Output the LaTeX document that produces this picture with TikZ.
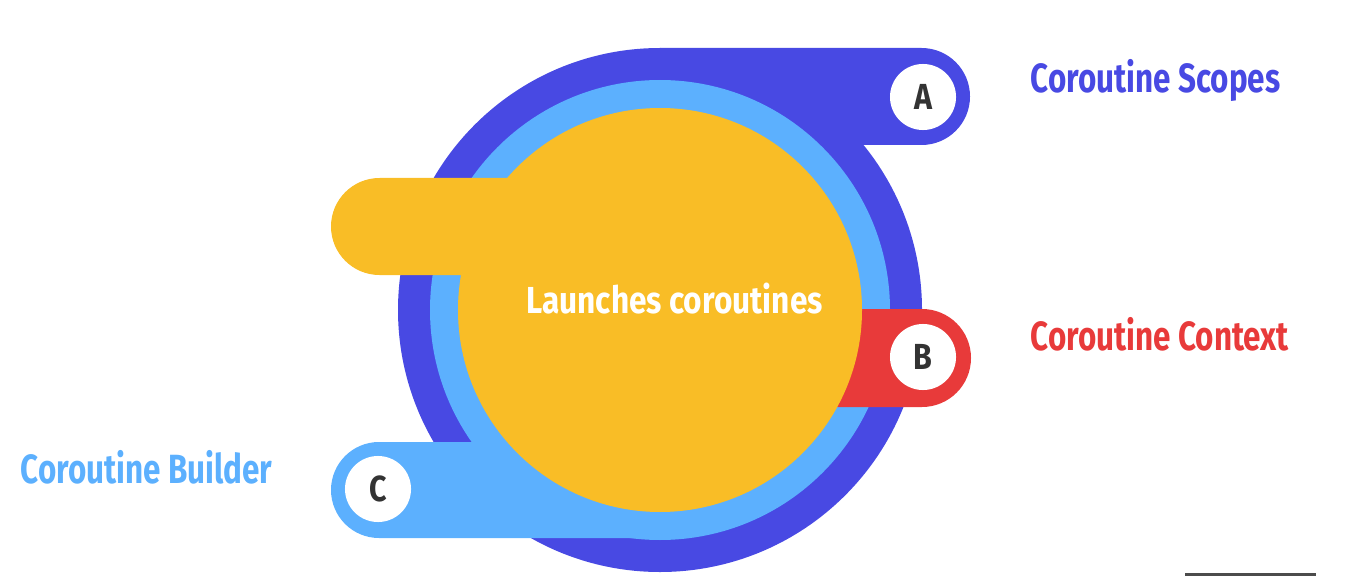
\documentclass[tikz,border=0pt]{standalone}
\usepackage{fontspec}
\setmainfont{Fira Sans}
\newfontfamily\condfont[FakeStretch=0.84]{Fira Sans}
\newfontfamily\captionfont[FakeStretch=0.77]{Fira Sans}
\usepackage{tikz}

\definecolor{scopeblue}{HTML}{4849E3}
\definecolor{builderblue}{HTML}{5CB0FE}
\definecolor{launchyellow}{HTML}{F9BD26}
\definecolor{contextred}{HTML}{E83A3A}
\definecolor{lettergray}{HTML}{333333}

\begin{document}
\begin{tikzpicture}[x=0.01cm, y=0.01cm, yscale=-1,
    letter/.style={circle, fill=white, minimum size=0.66cm, inner sep=0pt, text=lettergray, font=\condfont\bfseries\fontsize{10.3}{12}\selectfont},
    caption/.style={anchor=base west, inner sep=0pt, font=\captionfont\bfseries\fontsize{11.6}{14}\selectfont}]

    \useasboundingbox (0,0) rectangle (1358,576);

    \fill[scopeblue] (660,310) circle (262);
    \fill[scopeblue] (660,48) -- (921.5,48) arc[start angle=-90, end angle=90, radius=48.5] -- (660,145) -- cycle;

    \fill[builderblue] (660,310) circle (230);
    \fill[builderblue] (660,442) -- (379,442) arc[start angle=-90, end angle=-270, radius=48] -- (660,538) -- cycle;

    \fill[contextred] (660,309) -- (922,309) arc[start angle=-90, end angle=90, radius=49] -- (660,407) -- cycle;

    \fill[launchyellow] (660,310) circle (202);
    \fill[launchyellow] (660,178) -- (379.5,178) arc[start angle=-90, end angle=-270, radius=48.5] -- (660,275) -- cycle;

    \node[letter] (a) at (923,97) {A};
    \node[letter] (b) at (923,357) {B};
    \node[letter] (c) at (378,489) {C};

    \node[anchor=base, inner sep=0pt, text=white, font=\condfont\bfseries\fontsize{10.7}{13}\selectfont] (launch) at (674.5,313) {Launches coroutines};

    \node[caption, text=scopeblue] (scopes) at (1030,93) {Coroutine Scopes};
    \node[caption, text=contextred] (context) at (1030,350) {Coroutine Context};
    \node[caption, text=builderblue] (builder) at (20,483) {Coroutine Builder};

    \fill[gray!60!black] (1185,573) rectangle (1316,576);

\end{tikzpicture}
\end{document}
